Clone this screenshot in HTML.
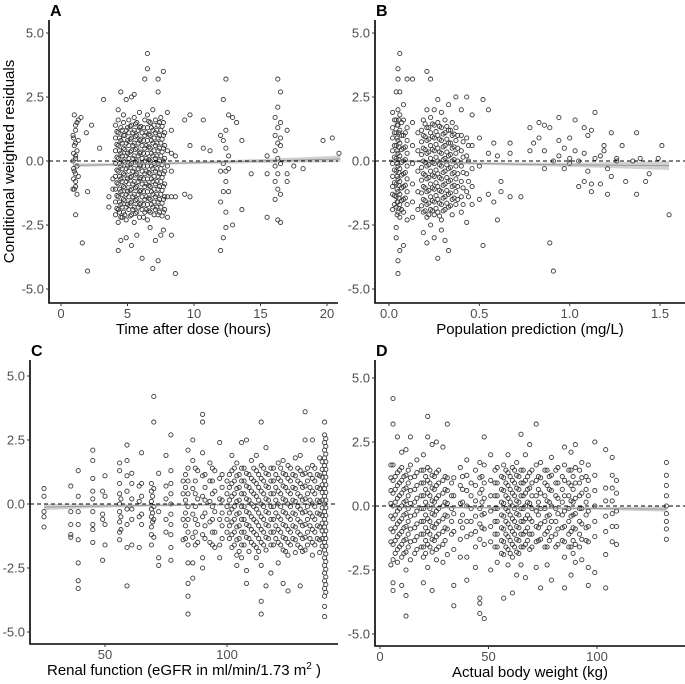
<!DOCTYPE html>
<html><head><meta charset="utf-8">
<style>
html,body{margin:0;padding:0;background:#fff;}
svg{display:block;font-family:"Liberation Sans",sans-serif;}
</style></head>
<body>
<svg id="fig" width="685" height="684" viewBox="0 0 685 684" xmlns="http://www.w3.org/2000/svg"></svg>
<script>
// Panel A: time after dose (h) — columns [x, y...]
const pointsA = [
[1.0,1.8,0.6,-0.4,-1.1],[1.2,1.5,0.4,-0.2,-1.3],[1.1,1.2,0.2,-0.8,-2.1],[0.9,1.0,0.0,-1.1],[1.3,0.8,-0.6,1.6],[1.5,1.7],[1.6,-3.2],[2.0,-4.3,-1.2],[1.9,1.1],[2.3,1.4],[2.9,0.5],[3.2,2.4],[3.6,-1.4,-1.8],[3.9,-0.7,-1.1],
[4.1,1.4,0.9,0.4,-0.1,-0.6,-1.1,-1.6,-2.1],[4.3,2.0,1.6,1.1,0.6,0.1,-0.4,-0.9,-1.4,-1.9,-2.4,-3.5],[4.5,2.7,1.3,0.8,0.3,-0.2,-0.7,-1.2,-1.7,-2.2,-3.1],
[4.7,1.8,1.5,1.0,0.5,0.0,-0.5,-1.0,-1.5,-2.0],[4.9,2.4,1.2,0.7,0.2,-0.3,-0.8,-1.3,-1.8,-2.3,-3.0],[5.1,1.6,1.1,0.6,0.1,-0.4,-0.9,-1.4,-1.9],
[5.3,2.5,1.4,0.9,0.4,-0.1,-0.6,-1.1,-1.6,-2.1,-3.3],[5.5,2.6,1.7,1.2,0.7,0.2,-0.3,-0.8,-1.3,-1.8,-2.4],[5.7,1.5,1.0,0.5,0.0,-0.5,-1.0,-1.5,-2.0,-2.9],
[5.9,1.9,1.3,0.8,0.3,-0.2,-0.7,-1.2,-1.7,-2.2],[6.1,1.1,0.6,0.1,-0.4,-0.9,-1.4,-1.9,-3.8],[6.3,3.2,1.6,1.0,0.5,0.0,-0.5,-1.0,-1.5,-2.0],
[6.5,4.2,3.6,1.8,1.3,0.8,0.3,-0.2,-0.7,-1.2,-1.7,-2.3],[6.7,1.5,1.0,0.5,0.0,-0.5,-1.0,-1.5,-2.0,-2.6],[6.9,2.0,1.2,0.7,0.2,-0.3,-0.8,-1.3,-1.8,-4.2],
[7.1,1.6,1.1,0.6,0.1,-0.4,-0.9,-1.4,-1.9,-3.1],[7.3,3.2,2.7,1.4,0.9,0.4,-0.1,-0.6,-1.1,-1.6,-2.1,-3.9],[7.5,1.7,1.2,0.7,0.2,-0.3,-0.8,-1.3,-1.8,-2.9],
[7.7,3.5,1.5,1.0,0.5,0.0,-0.5,-1.0,-1.5,-2.0,-2.7],[8.0,1.9,0.4,-0.2,-1.4,-2.2],[8.3,1.2,0.3,-0.4,-1.4,-2.9],[8.6,-4.4,0.2,-1.4],
[9.3,1.6,-1.3],[9.7,1.8,0.6,-1.4],[10.7,1.6,0.5],[11.2,0.4],
[12.0,1.0,-0.4,-1.6,-3.5],[12.2,2.4,0.8,-0.1,-1.2,-3.0],[12.4,3.2,1.2,0.5,-0.4,-0.8,-2.0,-2.6],[12.6,1.8,0.2,-1.2,-0.3],[12.9,1.7,-2.5],[13.2,1.5],[13.6,-1.9,0.8],[14.3,-0.5],
[16.1,1.7,1.0,0.4,-0.2,-0.8,-1.5],[16.3,3.2,2.1,1.3,0.7,0.1,-0.5,-1.1,-2.3],[16.5,2.7,1.5,0.9,0.6,-0.1,-1.3,-2.4],[15.5,-2.2,0.2,-0.5],[17.0,1.2,-0.5,-0.8],[17.5,-0.2],[18.2,-0.3],[19.7,0.8],[20.4,0.9],[20.9,0.3]
];
const pointsA2 = [
[1.1,1.4,0.7,0.1,-0.5,-1.0],[0.95,0.9,0.3,-0.3,-0.7],
[4.2,1.15,0.65,0.15,-0.35,-0.85,-1.35,-1.85],[4.4,0.9,0.4,-0.1,-0.6,-1.1,-1.6,-2.0],[4.6,1.2,0.7,0.2,-0.3,-0.8,-1.3,-1.8,-2.2],
[4.8,1.0,0.45,-0.05,-0.55,-1.05,-1.55,-2.1],[5.0,1.3,0.8,0.3,-0.2,-0.7,-1.2,-1.7],[5.2,1.35,0.85,0.35,-0.15,-0.65,-1.15,-1.65,-2.15],
[5.4,1.1,0.6,0.1,-0.4,-0.9,-1.4,-1.9],[5.6,1.45,0.95,0.45,-0.05,-0.55,-1.05,-1.55,-2.05],[5.8,1.2,0.7,0.2,-0.3,-0.8,-1.3,-1.8],
[6.0,1.35,0.85,0.35,-0.15,-0.65,-1.15,-1.65],[6.2,1.3,0.8,0.3,-0.2,-0.7,-1.2,-1.7,-2.2],[6.4,1.1,0.6,0.1,-0.4,-0.9,-1.4,-1.9],
[6.6,1.55,1.05,0.55,0.05,-0.45,-0.95,-1.45,-1.95],[6.8,1.3,0.8,0.3,-0.2,-0.7,-1.2,-1.7],[7.0,1.4,0.9,0.4,-0.1,-0.6,-1.1,-1.6,-2.1],
[7.2,1.2,0.7,0.2,-0.3,-0.8,-1.3,-1.8],[7.4,1.5,1.0,0.5,0.0,-0.5,-1.0,-1.5,-2.0],[7.6,1.35,0.85,0.35,-0.15,-0.65,-1.15,-1.65,-2.15],[7.8,1.1,0.6,0.1,-0.4,-0.9,-1.4,-1.9]
];
// Panel B: population prediction (mg/L)
const pointsB = [
[0.02,1.9,1.3,0.9,0.4,-0.1,-0.6,-1.0,-1.3,-1.9],[0.04,2.7,1.6,1.1,0.6,0.1,-0.4,-0.9,-1.4,-1.8,-2.6,-3.0],[0.05,3.6,3.2,2.0,1.4,0.8,0.3,-0.2,-0.7,-1.2,-1.6,-2.0,-4.4,-3.9],
[0.06,4.2,2.7,1.8,1.2,0.7,0.2,-0.3,-0.8,-1.3,-1.7,-2.2,-3.5],[0.08,2.2,1.6,1.0,0.5,0.0,-0.5,-1.0,-1.5,-2.0,-3.3],[0.10,3.2,1.3,0.8,0.3,-0.2,-0.7,-1.2,-1.7,-2.3],
[0.13,3.2,1.5,0.6,-0.1,-0.9,-1.6,-2.2],[0.16,1.1,0.4,-0.4,-1.2,-1.9],[0.19,1.6,1.0,0.5,0.0,-0.5,-1.0,-1.5,-2.0,-2.8],[0.21,3.5,2.0,1.3,0.8,0.3,-0.2,-0.7,-1.2,-1.7,-2.2,-3.2],
[0.23,3.2,1.7,1.1,0.6,0.1,-0.4,-0.9,-1.4,-1.9,-2.5],[0.25,2.0,1.4,0.9,0.4,-0.1,-0.6,-1.1,-1.6,-2.1,-3.0],[0.27,2.4,1.5,1.0,0.5,0.0,-0.5,-1.0,-1.5,-2.0,-3.8],
[0.29,1.9,1.3,0.8,0.3,-0.2,-0.7,-1.2,-1.7,-2.3,-2.7],[0.31,1.6,1.1,0.6,0.1,-0.4,-0.9,-1.4,-1.9,-3.1],[0.33,2.2,1.2,0.7,0.2,-0.3,-0.8,-1.3,-1.8,-3.5],
[0.35,1.5,1.0,0.5,0.0,-0.5,-1.0,-1.5,-2.1],[0.37,2.5,1.3,0.8,0.3,-0.2,-0.7,-1.2,-1.7],[0.40,2.0,1.0,0.4,-0.2,-0.8,-1.4,-2.0],[0.43,2.5,0.9,0.2,-0.5,-1.2,-2.4],[0.46,1.8,0.6,-0.3,-1.0,-1.7],
[0.50,0.9,-0.2,-1.5],[0.52,2.4,-3.3],[0.55,2.0,0.3,-1.3],[0.58,-1.6,0.7],[0.60,-2.3,0.2],[0.62,-0.8,-1.2],[0.67,0.7,-1.4,0.3],[0.73,-1.4],[0.78,1.3,0.4],[0.80,0.7],
[0.83,1.5,0.9],[0.86,1.4,0.4,-0.3],[0.89,1.3,-3.2],[0.91,-4.3,0.0],[0.94,1.7,0.8,0.2],[0.97,0.5,-0.3],[1.00,0.9,0.1,-0.1],[1.03,1.6,0.4],[1.05,-1.0,0.0],[1.08,-0.8,1.3,0.3],
[1.10,1.0,-0.4],[1.12,-0.9,-1.2,1.2],[1.14,1.9,0.1],[1.17,-0.9,0.2],[1.19,0.6,0.4],[1.21,-1.3,-0.3],[1.23,1.1,-0.6],[1.26,0.0,0.1],[1.29,0.6],[1.31,-0.8],[1.35,0.0],
[1.37,-1.3,1.1],[1.39,0.1],[1.42,-0.8],[1.44,-0.5],[1.49,0.1],[1.51,0.6],[1.55,-2.1]
];
const pointsB2 = [
[0.03,1.6,1.1,0.6,0.15,-0.35,-0.85,-1.35,-1.7],[0.045,1.4,0.9,0.4,-0.1,-0.6,-1.1,-1.6,-2.1],[0.055,1.6,1.1,0.55,0.05,-0.45,-0.95,-1.45,-1.85],
[0.07,1.5,1.0,0.45,-0.05,-0.55,-1.05,-1.55,-1.9],[0.09,1.1,0.55,0.05,-0.45,-0.95,-1.45],[0.18,1.2,0.75,0.25,-0.25,-0.75,-1.25,-1.75],
[0.20,1.45,0.95,0.45,-0.05,-0.55,-1.05,-1.55,-1.95],[0.22,1.3,0.85,0.35,-0.15,-0.65,-1.15,-1.65,-2.1],[0.24,1.45,0.95,0.45,-0.05,-0.55,-1.05,-1.55,-1.95],
[0.26,1.15,0.65,0.15,-0.35,-0.85,-1.35,-1.85],[0.28,1.35,0.85,0.35,-0.15,-0.65,-1.15,-1.65,-2.15],[0.30,1.05,0.55,0.05,-0.45,-0.95,-1.45,-1.95],
[0.32,1.35,0.85,0.35,-0.15,-0.65,-1.15,-1.65],[0.34,1.2,0.7,0.25,-0.25,-0.75,-1.25,-1.75],[0.36,1.05,0.55,0.05,-0.45,-0.95,-1.45],
[0.38,1.0,0.5,0.0,-0.5,-1.0,-1.5],[0.41,0.75,0.15,-0.45,-1.05,-1.7],[0.44,0.6,0.0,-0.8,-1.4]
];
// Panel C: eGFR
const pointsC = [
[25,0.6,0.3,-0.3,-0.5,-0.9],[36,0.7,-0.3,-0.8,-1.2,-1.3],[39,1.3,0.3,-0.3,-0.8,-1.4,-2.3,-3.0,-3.3],[45,2.1,1.7,1.0,0.5,0.2,-0.3,-0.8,-1.0,-1.5],[49,0.5,-0.4,-0.6,-2.2],[50,1.1,0.3,-0.8,-1.6],
[56,1.6,1.3,0.8,0.4,0.0,-0.3,-0.7,-1.1,-1.4],[59,2.3,1.7,1.1,0.5,-0.2,-0.8,-1.7,-3.2],[61,1.2,0.8,0.2,-0.2,-0.6,-1.6],[64,0.7,0.1,-0.5,-1.7],[65,2.0,0.8,0.3,-0.4,-0.8],
[69,0.8,0.5,0.1,-0.2,-0.5,-0.9,-1.2,-1.6],[70,4.2,3.2,0.6,-0.1,-0.6,-1.3],[72,1.2,-0.3,-2.1,-2.4],[75,1.9,0.7,0.2,-0.6,-1.1],[77,2.7,1.3,0.8,0.4,0.0,-0.4,-0.8,-1.2,-1.7,-2.2],
[82,0.9,0.4,-0.6,-1.4],[84,2.1,1.4,0.9,0.4,-0.1,-0.6,-1.1,-1.6,-2.3,-3.1,-3.6,-4.3],[86,2.5,1.7,0.6,-0.4,-1.3,-2.3,-2.9],[88,1.3,0.2,-0.8,-1.5],[90,3.5,3.2,2.0,1.1,0.3,-0.5,-1.2,-2.1,-2.5],
[93,1.6,0.9,0.1,-0.7,-1.5],[95,1.3,0.5,-0.3,-1.1,-1.7],[97,2.4,1.0,0.2,-0.6,-1.6,-2.1],[100,0.9,0.4,-0.1,-0.6,-1.1],[102,1.9,1.3,0.8,0.3,-0.2,-0.7,-1.2,-1.7],
[104,1.6,1.1,0.6,0.1,-0.4,-0.9,-1.4,-2.0,-2.4],[106,2.4,1.4,0.9,0.4,-0.1,-0.6,-1.1,-1.6,-2.1],[108,2.5,1.2,0.7,0.2,-0.3,-0.8,-1.3,-2.6,-3.1],[110,1.7,1.0,0.5,0.0,-0.5,-1.0,-1.5],
[112,1.9,1.3,0.8,0.3,-0.2,-0.7,-1.2,-1.7,-2.1],[114,3.2,1.5,1.0,0.5,0.0,-0.5,-1.0,-1.5,-2.4,-3.8,-4.3],[116,2.2,1.2,0.7,0.2,-0.3,-0.8,-1.3,-1.8,-3.2],[118,1.4,0.9,0.4,-0.1,-0.6,-1.1,-1.6,-2.7],
[121,1.6,1.0,0.5,0.0,-0.5,-1.0,-1.5,-2.3],[123,1.7,1.2,0.7,0.2,-0.3,-0.8,-1.3,-1.8,-3.1],[125,1.5,1.0,0.5,0.0,-0.5,-1.0,-1.5,-2.0,-3.4],[128,1.8,1.1,0.6,0.1,-0.4,-0.9,-1.4,-1.9],
[130,1.9,1.3,0.8,0.3,-0.2,-0.7,-1.2,-1.7,-3.2],[132,3.6,2.5,1.2,0.7,0.2,-0.3,-0.8,-1.3,-1.8],[135,2.5,1.5,1.0,0.5,0.0,-0.5,-1.0,-1.5,-2.0],[138,1.8,1.1,0.6,0.1,-0.4,-0.9,-1.4,-1.9],
[140,3.2,2.7,2.4,2.1,1.8,1.5,1.2,0.9,0.6,0.3,0.0,-0.3,-0.6,-0.9,-1.2,-1.5,-1.8,-2.1,-2.4,-2.7,-3.0,-3.3,-3.6,-4.0,-4.4]
];
const pointsC2 = [
[56.5,0.2,-0.5,-1.0],[69.5,0.3,-0.35,-0.7],[83,1.15,0.65,0.15,-0.35,-0.85,-1.35],[87,1.4,0.9,0.4,-0.1,-0.6,-1.1,-1.6],[91,1.15,0.65,0.15,-0.35,-0.85,-1.35],
[94,1.4,0.9,0.4,-0.1,-0.6,-1.1,-1.6],[98,1.15,0.65,0.15,-0.35,-0.85,-1.35],
[101,1.15,0.65,0.15,-0.35,-0.85,-1.35],[103,1.4,0.9,0.4,-0.1,-0.6,-1.1,-1.6],[105,1.15,0.65,0.15,-0.35,-0.85,-1.35,-1.85],[107,1.4,0.9,0.4,-0.1,-0.6,-1.1,-1.6],
[109,1.15,0.65,0.15,-0.35,-0.85,-1.35,-1.85],[111,1.4,0.9,0.4,-0.1,-0.6,-1.1,-1.6],[113,1.15,0.65,0.15,-0.35,-0.85,-1.35,-1.85],[115,1.4,0.9,0.4,-0.1,-0.6,-1.1,-1.6],
[117,1.15,0.65,0.15,-0.35,-0.85,-1.35],[119,1.4,0.9,0.4,-0.1,-0.6,-1.1,-1.6],[120,1.15,0.65,0.15,-0.35,-0.85,-1.35],[122,1.4,0.9,0.4,-0.1,-0.6,-1.1,-1.6],
[124,1.15,0.65,0.15,-0.35,-0.85,-1.35,-1.85],[126,1.4,0.9,0.4,-0.1,-0.6,-1.1,-1.6],[127,1.15,0.65,0.15,-0.35,-0.85,-1.35],[129,1.4,0.9,0.4,-0.1,-0.6,-1.1,-1.6],
[131,1.15,0.65,0.15,-0.35,-0.85,-1.35,-1.85],[133,1.4,0.9,0.4,-0.1,-0.6,-1.1,-1.6],[134,1.15,0.65,0.15,-0.35,-0.85,-1.35],[136,1.4,0.9,0.4,-0.1,-0.6,-1.1,-1.6],
[137,1.15,0.65,0.15,-0.35,-0.85,-1.35],[139,1.65,1.35,1.05,0.75,0.45,0.15,-0.15,-0.45,-0.75,-1.05,-1.35,-1.65],
[140.5,2.55,2.25,1.95,1.65,1.35,1.05,0.75,0.45,0.15,-0.15,-0.45,-0.75,-1.05,-1.35,-1.65,-1.95,-2.25,-2.55,-2.85,-3.15,-3.45]
];
// Panel D: body weight (kg)
const pointsD = [
[5,1.6,1.1,0.6,0.1,-0.4,-0.9,-1.4,-2.3],[6,4.2,3.2,1.6,1.0,0.5,0.0,-0.5,-1.0,-1.5,-2.1,-3.0,-3.3],[8,2.7,1.3,0.8,0.3,-0.2,-0.7,-1.2,-1.7,-2.2],[10,2.1,1.5,1.0,0.5,0.0,-0.5,-1.0,-1.5,-2.0,-3.1],
[12,2.2,1.2,0.7,0.2,-0.3,-0.8,-1.3,-1.8,-2.5,-4.3,-3.5],[14,2.7,1.6,1.1,0.6,0.1,-0.4,-0.9,-1.4,-2.1],[17,1.8,1.3,0.8,0.3,-0.2,-0.7,-1.2,-1.7],[20,2.0,1.4,0.9,0.4,-0.1,-0.6,-1.1,-1.6,-2.0,-3.0],
[22,3.5,2.7,1.5,1.0,0.5,0.0,-0.5,-1.0,-1.5,-2.4],[24,2.4,1.2,0.7,0.2,-0.3,-0.8,-1.3,-1.8,-3.3],[26,2.5,1.3,0.8,0.3,-0.2,-0.7,-1.2,-1.7,-2.1],[29,2.3,1.0,0.5,0.0,-0.5,-1.0,-1.5,-2.2],
[31,3.2,1.1,0.6,0.1,-0.4,-0.9,-1.9],[34,1.1,0.4,-0.3,-1.0,-1.7,-3.1,-3.9],[37,1.5,0.8,0.1,-0.6,-1.3,-2.0],[40,1.8,1.2,0.6,0.0,-0.6,-1.2,-2.0,-2.9],[44,1.4,0.8,0.2,-0.4,-1.0,-1.6,-2.4],
[46,1.7,1.1,0.5,-0.1,-0.7,-1.3,-3.6,-3.8,-4.2],[48,2.7,1.6,0.9,0.3,-0.3,-0.9,-1.5,-4.4],[51,2.0,1.0,0.4,-0.2,-0.8,-1.4,-2.5],[54,1.5,0.9,0.4,-0.1,-0.6,-1.1,-1.6,-2.2],
[57,1.6,1.1,0.6,0.1,-0.4,-0.9,-1.4,-1.9,-3.6],[59,2.0,1.3,0.8,0.3,-0.2,-0.7,-1.2,-1.7,-2.3],[61,1.5,1.0,0.5,0.0,-0.5,-1.0,-1.5,-2.0,-3.4],[63,1.7,1.2,0.7,0.2,-0.3,-0.8,-1.3,-1.8,-2.7],
[65,2.8,1.4,0.9,0.4,-0.1,-0.6,-1.1,-1.6,-2.3],[67,2.0,1.0,0.5,0.0,-0.5,-1.0,-1.5,-2.8],[69,2.4,1.3,0.7,0.1,-0.5,-1.1,-1.7],[72,3.2,1.6,1.0,0.4,-0.2,-0.8,-1.4,-2.4],[74,1.7,1.1,0.5,-0.1,-0.7,-1.3,-3.2],
[77,1.4,0.8,0.2,-0.4,-1.0,-1.6,-2.3],[79,1.9,1.2,0.6,0.0,-0.6,-1.2,-2.9],[82,1.5,0.9,0.3,-0.3,-0.9,-1.5],[85,2.3,1.6,1.0,0.4,-0.2,-0.8,-1.4,-2.0,-3.2],[88,2.1,1.4,0.8,0.2,-0.4,-1.0,-1.6,-2.7],
[90,2.4,1.5,0.9,0.3,-0.3,-0.9,-1.5,-2.2],[93,1.7,1.1,0.5,-0.1,-0.7,-1.3,-2.1],[96,1.6,1.0,0.4,-0.2,-0.8,-1.4,-2.4,-3.1],[99,2.5,1.2,0.6,0.0,-0.6,-1.2,-2.6],[104,2.2,0.7,0.2,-0.4,-1.0,-1.9,-3.2],
[107,1.9,1.2,0.7,0.2,-0.3,-0.8,-1.4],[109,1.0,0.5,-0.2,-0.8,-1.5],[132,1.7,1.2,0.8,0.4,0.0,-0.3,-0.6,-0.9,-1.3]
];
const pointsD2 = [
[7,1.15,0.65,0.15,-0.35,-0.85,-1.35,-1.85],[9,1.4,0.9,0.4,-0.1,-0.6,-1.1,-1.6],[11,1.15,0.65,0.15,-0.35,-0.85,-1.35,-1.85],[13,1.4,0.9,0.4,-0.1,-0.6,-1.1,-1.6],
[16,1.15,0.65,0.15,-0.35,-0.85,-1.35,-1.85],[19,1.4,0.9,0.4,-0.1,-0.6,-1.1,-1.6],[21,1.15,0.65,0.15,-0.35,-0.85,-1.35,-1.85],[23,1.4,0.9,0.4,-0.1,-0.6,-1.1,-1.6],
[25,1.15,0.65,0.15,-0.35,-0.85,-1.35],[27,1.4,0.9,0.4,-0.1,-0.6,-1.1,-1.6],[30,1.15,0.65,0.15,-0.35,-0.85,-1.35],[33,0.9,0.4,-0.1,-0.6,-1.1],
[38,1.15,0.65,0.15,-0.35,-0.85],[42,0.9,0.4,-0.1,-0.6,-1.1],[47,1.15,0.65,0.15,-0.35,-0.85],
[53,1.4,0.9,0.4,-0.1,-0.6,-1.1,-1.6],[56,1.15,0.65,0.15,-0.35,-0.85,-1.35,-1.85],[58,1.4,0.9,0.4,-0.1,-0.6,-1.1,-1.6],[60,1.15,0.65,0.15,-0.35,-0.85,-1.35,-1.85],
[62,1.4,0.9,0.4,-0.1,-0.6,-1.1,-1.6],[64,1.15,0.65,0.15,-0.35,-0.85,-1.35,-1.85],[66,1.4,0.9,0.4,-0.1,-0.6,-1.1,-1.6],[68,1.15,0.65,0.15,-0.35,-0.85,-1.35],
[70,1.4,0.9,0.4,-0.1,-0.6,-1.1,-1.6],[73,1.15,0.65,0.15,-0.35,-0.85,-1.35],[76,1.4,0.9,0.4,-0.1,-0.6,-1.1,-1.6],[78,1.15,0.65,0.15,-0.35,-0.85,-1.35],
[81,1.4,0.9,0.4,-0.1,-0.6,-1.1,-1.6],[84,1.15,0.65,0.15,-0.35,-0.85,-1.35],[87,1.4,0.9,0.4,-0.1,-0.6,-1.1,-1.6],[89,1.15,0.65,0.15,-0.35,-0.85,-1.35,-1.85],
[92,1.4,0.9,0.4,-0.1,-0.6,-1.1,-1.6],[95,1.15,0.65,0.15,-0.35,-0.85,-1.35]
];
// Smoother (loess) fit and ribbon half-widths
const smoothXA=[0.9,5,10,15,21], smoothYA=[-0.17,-0.13,-0.07,0.0,0.08], smoothSeA=[0.07,0.04,0.05,0.08,0.13];
const smoothXB=[0,0.5,1.0,1.55], smoothYB=[0.02,-0.1,-0.15,-0.18], smoothSeB=[0.05,0.05,0.08,0.17];
const smoothXC=[25,50,75,100,140], smoothYC=[-0.12,-0.08,-0.05,-0.03,0.0], smoothSeC=[0.12,0.06,0.04,0.03,0.04];
const smoothXD=[5,50,100,132], smoothYD=[-0.05,-0.07,-0.1,-0.12], smoothSeD=[0.04,0.03,0.05,0.1];
// Tick labels
const yTicks=[5.0,2.5,0.0,-2.5,-5.0];
const xTicksA=[0,5,10,15,20], xTicksB=[0.0,0.5,1.0,1.5], xTicksC=[50,100], xTicksD=[0,50,100];

const NS="http://www.w3.org/2000/svg";
const svg=document.getElementById('fig');
function mk(tag,attrs,parent){const e=document.createElementNS(NS,tag);for(const k in attrs)e.setAttribute(k,attrs[k]);(parent||svg).appendChild(e);return e;}

const panels=[
 {id:'a',letter:'A',pts:pointsA.concat(pointsA2),sx:smoothXA,sy:smoothYA,se:smoothSeA,ticks:xTicksA,dec:0,left:49,right:338,top:20,bottom:303,x0:61,xk:13.3,y0:161,title:'Time after dose (hours)',ylab:true},
 {id:'b',letter:'B',pts:pointsB.concat(pointsB2),sx:smoothXB,sy:smoothYB,se:smoothSeB,ticks:xTicksB,dec:1,left:375,right:685,top:20,bottom:303,x0:389,xk:180.7,y0:161,title:'Population prediction (mg/L)'},
 {id:'c',letter:'C',pts:pointsC.concat(pointsC2),sx:smoothXC,sy:smoothYC,se:smoothSeC,ticks:xTicksC,dec:0,left:30,right:338,top:360,bottom:644,x0:-17,xk:2.44,y0:504,title:'eGFR'},
 {id:'d',letter:'D',pts:pointsD.concat(pointsD2),sx:smoothXD,sy:smoothYD,se:smoothSeD,ticks:xTicksD,dec:0,left:375,right:685,top:360,bottom:646,x0:380,xk:2.17,y0:506,title:'Actual body weight (kg)'}
];
const YK=25.6;
panels.forEach(p=>{
 const g=mk('g',{});
 
 
 const X=v=>p.x0+v*p.xk, Y=v=>p.y0-v*YK;
 let d='';
 p.sx.forEach((v,i)=>{d+=(i?'L':'M')+X(v)+','+Y(p.sy[i]+p.se[i]);});
 for(let i=p.sx.length-1;i>=0;i--)d+='L'+X(p.sx[i])+','+Y(p.sy[i]-p.se[i]);
 const rib=mk('path',{d:d+'Z',fill:'#bdbdbd','fill-opacity':'0.7'},g);
 
 
 const pg=mk('g',{fill:'none',stroke:'#3a3a3a','stroke-width':'0.9'},g);
 
 
 p.pts.forEach(col=>{for(let j=1;j<col.length;j++){
   const c=mk('circle',{cx:X(col[0]).toFixed(1),cy:Y(col[j]).toFixed(1),r:'2.1'},pg);
   
   
 }});
 let ld='';p.sx.forEach((v,i)=>{ld+=(i?'L':'M')+X(v)+','+Y(p.sy[i]);});
 const sl=mk('path',{d:ld,fill:'none',stroke:'#999','stroke-width':'1'},g);
 
 
 const zl=mk('line',{x1:p.left,x2:p.right,y1:Y(0),y2:Y(0),stroke:'#000','stroke-width':'1','stroke-dasharray':'4,3'},g);
 
 
 const ax=mk('path',{d:`M${p.left},${p.top}V${p.bottom}H${p.right}`,fill:'none',stroke:'#000','stroke-width':'1.6'},g);
 
 
 yTicks.forEach(t=>{
   mk('line',{x1:p.left-3,x2:p.left,y1:Y(t),y2:Y(t),stroke:'#333','stroke-width':'1'},g);
   const tx=mk('text',{x:p.left-5,y:Y(t)+4.5,'text-anchor':'end','font-size':'13',fill:'#4d4d4d'},g);
   tx.textContent=t.toFixed(1);
   
   
 });
 p.ticks.forEach(t=>{
   mk('line',{x1:X(t),x2:X(t),y1:p.bottom,y2:p.bottom+3,stroke:'#333','stroke-width':'1'},g);
   const tx=mk('text',{x:X(t),y:p.bottom+15,'text-anchor':'middle','font-size':'13',fill:'#4d4d4d'},g);
   tx.textContent=t.toFixed(p.dec);
   
   
 });
 const cx=(p.left+p.right)/2;
 const tt=mk('text',{x:cx,y:p.bottom+31,'text-anchor':'middle','font-size':'15',fill:'#000'},g);
 if(p.id==='c'){tt.innerHTML='Renal function (eGFR in ml/min/1.73 m<tspan dy="-6" font-size="10">2</tspan><tspan dy="6"> )</tspan>';}
 else tt.textContent=p.title;
 
 
 const lt=mk('text',{x:p.left+1,y:p.top-4,'font-size':'16','font-weight':'bold',fill:'#000'},g);
 lt.textContent=p.letter;
 
 
 if(p.ylab){
   const yl=mk('text',{x:0,y:0,transform:`translate(14,${(p.top+p.bottom)/2}) rotate(-90)`,'text-anchor':'middle','font-size':'15',fill:'#000'},g);
   yl.textContent='Conditional weighted residuals';
   
   
 }
});
</script>
</body></html>
